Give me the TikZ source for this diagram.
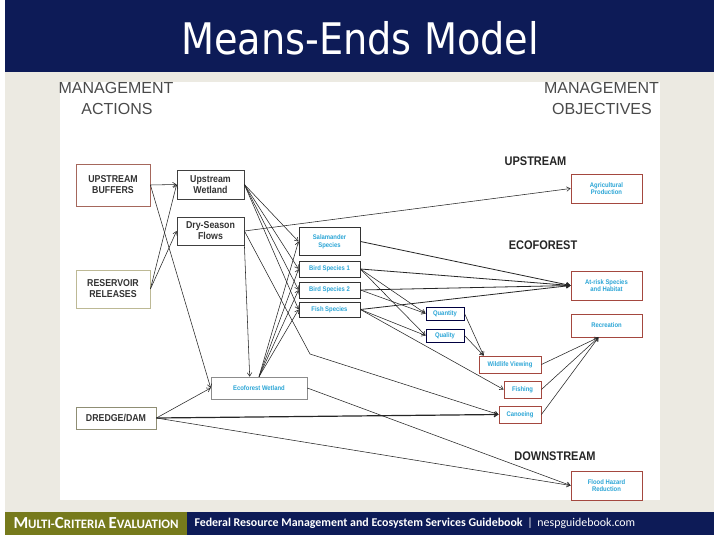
\documentclass[tikz,border=0pt]{standalone}
\usepackage{fontspec}
\setmainfont{Liberation Sans}
\newfontfamily\titlefont[FakeStretch=0.88]{DejaVu Sans}
\newfontfamily\nodefont[FakeStretch=0.88]{Liberation Sans}
\newfontfamily\footfont{Carlito}
\usetikzlibrary{arrows.meta,calc,shadows}
\definecolor{navy}{HTML}{0D1B57}
\definecolor{olivebar}{HTML}{767A1C}
\definecolor{beige}{HTML}{ECEAE2}
\definecolor{cyantext}{HTML}{2AA5D6}
\definecolor{redbrd}{HTML}{A4483F}
\definecolor{brownbrd}{HTML}{A5675C}
\definecolor{khakibrd}{HTML}{BDB995}
\definecolor{olivebrd}{HTML}{8F8E74}
\definecolor{headgray}{HTML}{4A4A4A}
\tikzset{
  box/.style={draw=black!75, line width=0.8pt, fill=white, inner sep=1pt, align=center,
    font=\nodefont\bfseries\fontsize{10}{11}\selectfont, text=black!80,
    drop shadow={shadow xshift=0.8pt,shadow yshift=-0.8pt,fill=black,opacity=0.35}},
  spec/.style={box, draw=black!80, text=cyantext, font=\nodefont\bfseries\fontsize{6.7}{7.7}\selectfont},
  qbox/.style={spec, draw=black!75!blue, line width=1pt},
  obj/.style={box, draw=redbrd, text=cyantext, font=\nodefont\bfseries\fontsize{6.7}{7.7}\selectfont},
  region/.style={font=\nodefont\bfseries\fontsize{12.5}{13}\selectfont, text=black!85},
  header/.style={font=\fontsize{16}{16}\selectfont, text=headgray},
  arr/.style={-{Straight Barb[length=3.5pt,width=4.5pt]}, line width=0.55pt, draw=black!85},
}
\begin{document}
\begin{tikzpicture}[x=1pt,y=-1pt]
\useasboundingbox (0,0) rectangle (720,540);
% slide background
\fill[white] (0,0) rectangle (720,540);
\fill[navy] (5,0) rectangle (714,72);
\fill[beige] (5,72) rectangle (714,512);
\fill[white] (60,82) rectangle (660,500);
\fill[olivebar] (5,512) rectangle (187,535);
\fill[navy] (187,512) rectangle (714,535);
\node[text=white, font=\titlefont\fontsize{43.5}{44}\selectfont] (title) at (360,38) {Means-Ends Model};
\node[text=white, font=\footfont\bfseries, anchor=west] (foot1) at (10,523.5)
  {{\fontsize{16.8}{16}\selectfont M}{\fontsize{12.9}{13}\selectfont ULTI-}{\fontsize{16.8}{16}\selectfont C}{\fontsize{12.9}{13}\selectfont RITERIA }{\fontsize{16.8}{16}\selectfont E}{\fontsize{12.9}{13}\selectfont VALUATION}};
\node[text=white, font=\footfont\fontsize{11.9}{12}\selectfont, anchor=west] (foot2) at (191,523.5)
  {\textbf{Federal Resource Management and Ecosystem Services Guidebook} \,|\, nespguidebook.com};
% headers
\node[header] (h1) at (116,88) {MANAGEMENT};
\node[header] (h2) at (117,109) {ACTIONS};
\node[header] (h3) at (601.5,88) {MANAGEMENT};
\node[header] (h4) at (602,109) {OBJECTIVES};
\node[region] (rup) at (535.5,161) {UPSTREAM};
\node[region] (reco) at (543,245) {ECOFOREST};
\node[region] (rdown) at (555,456) {DOWNSTREAM};
% management actions
\node[box, draw=brownbrd, minimum width=74pt, minimum height=42pt] (UB) at (113,185) {UPSTREAM\\BUFFERS};
\node[box, draw=khakibrd, minimum width=74pt, minimum height=38pt] (RR) at (113,289) {RESERVOIR\\RELEASES};
\node[box, draw=olivebrd, minimum width=80pt, minimum height=22pt] (DD) at (116,418) {DREDGE/DAM};
\node[box, minimum width=67pt, minimum height=29pt] (UW) at (210.5,184.5) {Upstream\\Wetland};
\node[box, minimum width=67pt, minimum height=28pt] (DS) at (210.5,231) {Dry-Season\\Flows};
\node[spec, draw=black!45, line width=0.6pt, minimum width=96pt, minimum height=22pt] (EW) at (259,388) {Ecoforest Wetland};
% intermediate
\node[spec, line width=1pt, minimum width=61pt, minimum height=27pt] (SAL) at (329.5,241.5) {Salamander\\Species};
\node[spec, minimum width=61pt, minimum height=16pt] (B1) at (329.5,269) {Bird Species 1};
\node[spec, minimum width=61pt, minimum height=16pt] (B2) at (329.5,290) {Bird Species 2};
\node[spec, minimum width=61pt, minimum height=15pt] (FS) at (329.5,309.5) {Fish Species};
\node[qbox, minimum width=38pt, minimum height=13pt] (QN) at (445,313.5) {Quantity};
\node[qbox, minimum width=38pt, minimum height=13pt] (QL) at (445,335.5) {Quality};
% objectives
\node[obj, minimum width=71pt, minimum height=29pt] (AP) at (606.5,188.5) {Agricultural\\Production};
\node[obj, minimum width=71pt, minimum height=29pt] (AR) at (606.5,285.5) {At-risk Species\\and Habitat};
\node[obj, minimum width=71pt, minimum height=23pt] (REC) at (606.5,325.5) {Recreation};
\node[obj, minimum width=62pt, minimum height=17pt] (WV) at (510,364.5) {Wildlife Viewing};
\node[obj, minimum width=37pt, minimum height=17pt] (FI) at (522.5,389.5) {Fishing};
\node[obj, minimum width=42pt, minimum height=17pt] (CA) at (520,414.5) {Canoeing};
\node[obj, minimum width=71pt, minimum height=29pt] (FH) at (606.5,485.5) {Flood Hazard\\Reduction};
% helper coordinates
\coordinate (bendc) at (310,354);
\coordinate (ewin) at ($(EW.north west)+(39,0)$);
\coordinate (wvin) at ($(WV.north west)+(5,0)$);
\coordinate (recin) at ($(REC.south)+(-8,0)$);
% connectors
\draw[arr] (UB.east) -- (UW.west);
\draw[arr] (UB.east) -- (EW.west);
\draw[arr] (RR.east) -- (UW.west);
\draw[arr] (RR.east) -- (DS.west);
\draw[arr] (DS.east) -- (AP.west);
\draw[arr] (DS.south east) -- (ewin);
\draw[arr] (DS.east) -- (bendc) -- (CA.west);
\foreach \t in {SAL,B1,B2,FS} {
  \draw[arr] (UW.east) -- (\t.west);
  \draw[arr] (EW.north) -- (\t.west);
  \draw[arr, line width=0.8pt] (\t.east) -- (AR.west);
}
\draw[arr] (B1.east) -- (QN.west);
\draw[arr] (B1.east) -- (QL.west);
\draw[arr] (B2.east) -- (QN.west);
\draw[arr] (FS.east) -- (QL.west);
\draw[arr] (FS.east) -- (FI.west);
\draw[arr] (QN.east) -- (wvin);
\draw[arr] (QL.east) -- (wvin);
\draw[arr] (WV.east) -- (recin);
\draw[arr] (FI.east) -- (recin);
\draw[arr] (CA.east) -- (recin);
\draw[arr] (DD.east) -- (EW.west);
\draw[arr, line width=1.2pt] (DD.east) -- (CA.west);
\draw[arr] (DD.east) -- (FH.west);
\draw[arr] (EW.east) -- (FH.west);
\end{tikzpicture}
\end{document}
